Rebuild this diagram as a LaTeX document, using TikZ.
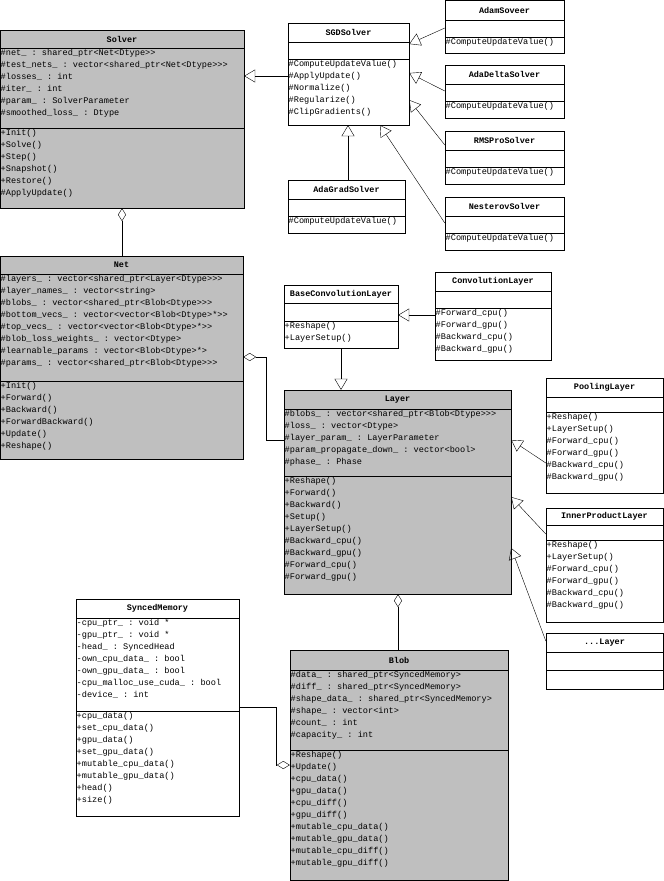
\documentclass[tikz,border=0pt]{standalone}
\usepackage{fontspec}
\setmonofont{Liberation Mono}
\usetikzlibrary{fit,arrows.meta}
\newcommand\umlbox[9]{%
 \node[fit={(#2,#3)(#4,#5)},inner sep=0pt,draw,fill=#8] (#1) {};
 \draw (#2,#6)--(#4,#6) (#2,#7)--(#4,#7);
 \node[ttl] (#1-t) at ({(#2+#4)/2},{(#3+#6)/2}) {#9};}
\newcommand\umltext[4]{\node[lns] (#1) at (#2,#3) {#4};}
\begin{document}
\begin{tikzpicture}[x=1pt,y=-1pt,
 ttl/.style={font=\ttfamily\bfseries\fontsize{8.5}{10}\selectfont,inner sep=0pt},
 lns/.style={anchor=north west,align=left,inner xsep=0.5pt,inner ysep=1.5pt,font=\ttfamily\fontsize{8.6}{12}\selectfont},
 inh/.style={draw,-{Triangle[open,length=11pt,width=13pt]}},
 agg/.style={draw,{Diamond[open,length=13pt,width=8pt]}-},
 g/.style={}]
\useasboundingbox (0,0) rectangle (664,881);
\colorlet{gr}{black!25}
% Solver
\umlbox{solver}{0}{30}{244}{208}{48}{128}{gr}{Solver}
\umltext{solver-a}{0}{48}{\#net\_ : shared\_ptr<Net<Dtype>>\\\#test\_nets\_ : vector<shared\_ptr<Net<Dtype>>>\\\#losses\_ : int\\\#iter\_ : int\\\#param\_ : SolverParameter\\\#smoothed\_loss\_ : Dtype}
\umltext{solver-o}{0}{128}{+Init()\\+Solve()\\+Step()\\+Snapshot()\\+Restore()\\\#ApplyUpdate()}
% SGD
\umlbox{sgd}{288}{23}{409}{125}{42}{59}{white}{SGDSolver}
\umltext{sgd-o}{288}{59}{\#ComputeUpdateValue()\\\#ApplyUpdate()\\\#Normalize()\\\#Regularize()\\\#ClipGradients()}
\umlbox{adam}{445}{0}{564}{53}{20}{37}{white}{AdamSoveer}
\umltext{adam-o}{445}{37}{\#ComputeUpdateValue()}
\umlbox{adadelta}{445}{65}{564}{118}{84}{101}{white}{AdaDeltaSolver}
\umltext{adadelta-o}{445}{101}{\#ComputeUpdateValue()}
\umlbox{rms}{445}{131}{564}{184}{150}{167}{white}{RMSProSolver}
\umltext{rms-o}{445}{167}{\#ComputeUpdateValue()}
\umlbox{nest}{445}{197}{564}{250}{216}{233}{white}{NesterovSolver}
\umltext{nest-o}{445}{233}{\#ComputeUpdateValue()}
\umlbox{adagrad}{288}{180}{405}{233}{199}{216}{white}{AdaGradSolver}
\umltext{adagrad-o}{288}{216}{\#ComputeUpdateValue()}
% Net
\umlbox{net}{0}{256}{243}{459}{274}{381}{gr}{Net}
\umltext{net-a}{0}{274}{\#layers\_ : vector<shared\_ptr<Layer<Dtype>>>\\\#layer\_names\_ : vector<string>\\\#blobs\_ : vector<shared\_ptr<Blob<Dtype>>>\\\#bottom\_vecs\_ : vector<vector<Blob<Dtype>*>>\\\#top\_vecs\_ : vector<vector<Blob<Dtype>*>>\\\#blob\_loss\_weights\_ : vector<Dtype>\\\#learnable\_params : vector<Blob<Dtype>*>\\\#params\_ : vector<shared\_ptr<Blob<Dtype>>>}
\umltext{net-o}{0}{381}{+Init()\\+Forward()\\+Backward()\\+ForwardBackward()\\+Update()\\+Reshape()}
% Layers
\umlbox{base}{284}{285}{398}{348}{303}{321}{white}{BaseConvolutionLayer}
\umltext{base-o}{284}{321}{+Reshape()\\+LayerSetup()}
\umlbox{conv}{435}{272}{551}{360}{291}{308}{white}{ConvolutionLayer}
\umltext{conv-o}{435}{308}{\#Forward\_cpu()\\\#Forward\_gpu()\\\#Backward\_cpu()\\\#Backward\_gpu()}
\umlbox{layer}{284}{390}{511}{594}{409}{476}{gr}{Layer}
\umltext{layer-a}{284}{409}{\#blobs\_ : vector<shared\_ptr<Blob<Dtype>>>\\\#loss\_ : vector<Dtype>\\\#layer\_param\_ : LayerParameter\\\#param\_propagate\_down\_ : vector<bool>\\\#phase\_ : Phase}
\umltext{layer-o}{284}{476}{+Reshape()\\+Forward()\\+Backward()\\+Setup()\\+LayerSetup()\\\#Backward\_cpu()\\\#Backward\_gpu()\\\#Forward\_cpu()\\\#Forward\_gpu()}
\umlbox{pool}{546}{378}{663}{493}{397}{412}{white}{PoolingLayer}
\umltext{pool-o}{546}{412}{+Reshape()\\+LayerSetup()\\\#Forward\_cpu()\\\#Forward\_gpu()\\\#Backward\_cpu()\\\#Backward\_gpu()}
\umlbox{inner}{546}{508}{663}{622}{525}{540}{white}{InnerProductLayer}
\umltext{inner-o}{546}{540}{+Reshape()\\+LayerSetup()\\\#Forward\_cpu()\\\#Forward\_gpu()\\\#Backward\_cpu()\\\#Backward\_gpu()}
\umlbox{dots}{546}{633}{663}{689}{652}{670}{white}{...Layer}
% Blob
\umlbox{blob}{290}{650}{508}{880}{670}{750}{gr}{Blob}
\umltext{blob-a}{290}{670}{\#data\_ : shared\_ptr<SyncedMemory>\\\#diff\_ : shared\_ptr<SyncedMemory>\\\#shape\_data\_ : shared\_ptr<SyncedMemory>\\\#shape\_ : vector<int>\\\#count\_ : int\\\#capacity\_ : int}
\umltext{blob-o}{290}{750}{+Reshape()\\+Update()\\+cpu\_data()\\+gpu\_data()\\+cpu\_diff()\\+gpu\_diff()\\+mutable\_cpu\_data()\\+mutable\_gpu\_data()\\+mutable\_cpu\_diff()\\+mutable\_gpu\_diff()}
\umlbox{sync}{76}{599}{239}{816}{618}{711}{white}{SyncedMemory}
\umltext{sync-a}{76}{618}{-cpu\_ptr\_ : void *\\-gpu\_ptr\_ : void *\\-head\_ : SyncedHead\\-own\_cpu\_data\_ : bool\\-own\_gpu\_data\_ : bool\\-cpu\_malloc\_use\_cuda\_ : bool\\-device\_ : int}
\umltext{sync-o}{76}{711}{+cpu\_data()\\+set\_cpu\_data()\\+gpu\_data()\\+set\_gpu\_data()\\+mutable\_cpu\_data()\\+mutable\_gpu\_data()\\+head()\\+size()}
% connectors
\draw[inh] (sgd.west |- 0,76) -- (solver.east |- 0,76);
\draw[inh] (adam.west |- 0,28) -- (sgd.east |- 0,44);
\draw[inh] (adadelta.west |- 0,91) -- (sgd.east |- 0,73);
\draw[inh] (rms.west |- 0,145) -- (sgd.east |- 0,100);
\draw[inh] (nest.west |- 0,223) -- (sgd.south -| 380,0);
\draw[inh] (adagrad.north -| 348,0) -- (sgd.south -| 348,0);
\draw[agg] (solver.south) -- (net.north -| solver.south);
\draw[agg] (net.east |- 0,357) -- (266,357) |- (layer.west |- 0,440);
\draw[inh] (base.south -| 341,0) -- (layer.north -| 341,0);
\draw[inh] (conv.west |- 0,315) -- (base.east |- 0,315);
\draw[inh] (pool.west |- 0,463) -- (layer.east |- 0,440);
\draw[inh] (inner.west |- 0,534) -- (layer.east |- 0,497);
\draw[inh] (dots.west |- 0,641) -- (layer.east |- 0,548);
\draw[agg] (layer.south -| 398,0) -- (blob.north -| 398,0);
\draw[agg] (blob.west |- 0,765) -- (276,765) |- (sync.east |- 0,707);
\end{tikzpicture}
\end{document}
